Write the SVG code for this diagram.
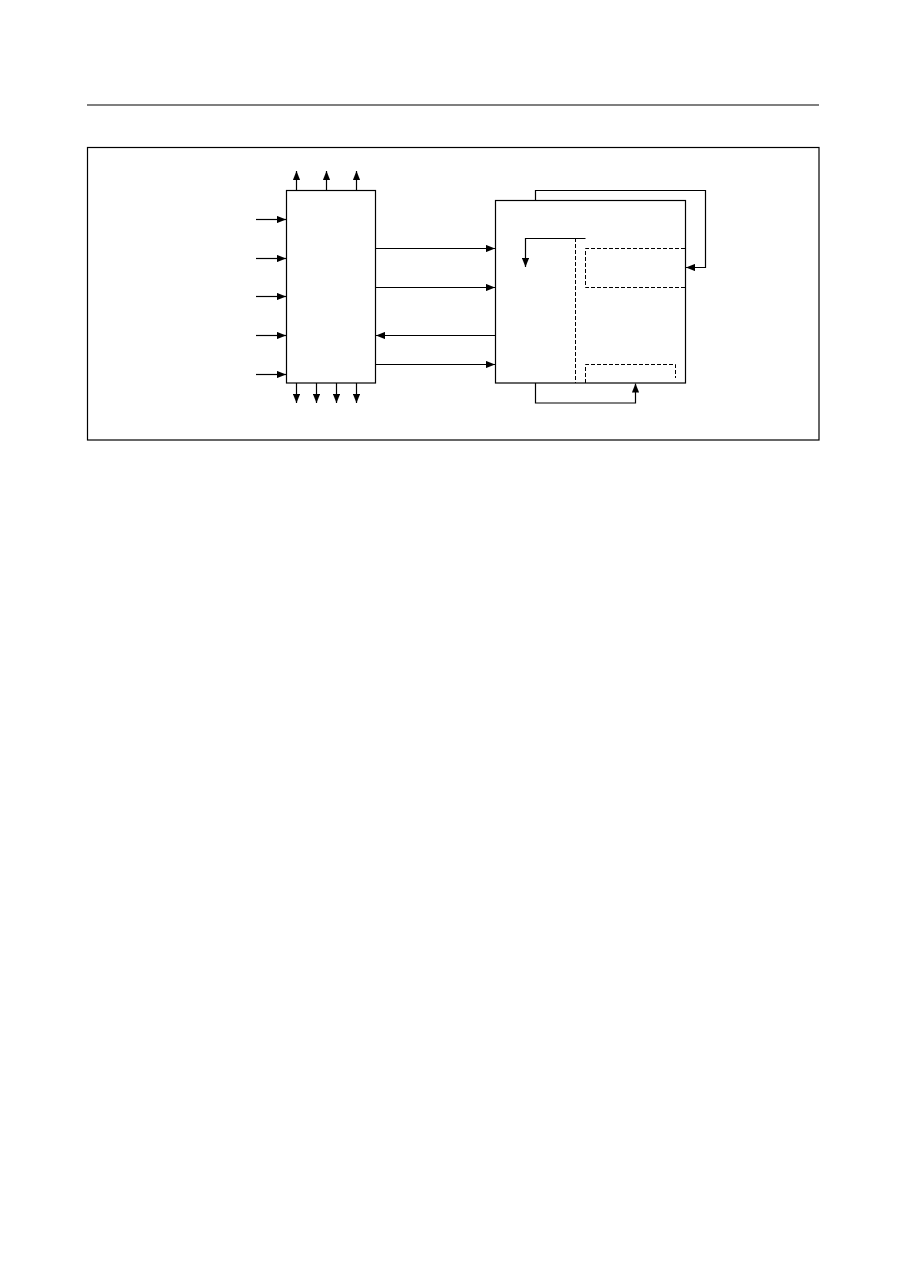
<svg xmlns="http://www.w3.org/2000/svg" width="909" height="1286" viewBox="0 0 909 1286">
<style>
.l{stroke:#000;stroke-width:1.2;fill:none}
.d{stroke:#000;stroke-width:1;fill:none;stroke-dasharray:4,2}
.a{stroke:#000;stroke-width:1.2;fill:none;marker-end:url(#ah)}
</style>
<defs>
<marker id="ah" viewBox="0 0 10 8" refX="10" refY="4" markerWidth="9" markerHeight="7.2" markerUnits="userSpaceOnUse" orient="auto">
<path d="M0,0 L10,4 L0,8 Z" fill="#000"/>
</marker>
</defs>
<rect width="909" height="1286" fill="#fff"/>
<line class="l" x1="87" y1="105" x2="819" y2="105" stroke-width="1.4"/>
<rect class="l" x="87.5" y="147.5" width="731.5" height="292.5" stroke-width="1.4"/>
<g id="left-block"><rect class="l" x="286.5" y="190.5" width="89" height="192.5"/></g>
<g id="right-block"><rect class="l" x="495.5" y="200.5" width="190" height="182.5"/>
<line class="d" x1="575.5" y1="238" x2="575.5" y2="383"/>
<polyline class="d" points="685,248.5 585.5,248.5 585.5,287.5 685,287.5"/>
<polyline class="d" points="585.5,383 585.5,364.5 675.5,364.5 675.5,378"/>
</g>
<g id="connectors">
<line class="a" x1="296.5" y1="190" x2="296.5" y2="171"/>
<line class="a" x1="326.5" y1="190" x2="326.5" y2="171"/>
<line class="a" x1="356.5" y1="190" x2="356.5" y2="171"/>
<line class="a" x1="296.5" y1="383" x2="296.5" y2="403"/>
<line class="a" x1="316.5" y1="383" x2="316.5" y2="403"/>
<line class="a" x1="336.5" y1="383" x2="336.5" y2="403"/>
<line class="a" x1="356.5" y1="383" x2="356.5" y2="403"/>
<line class="a" x1="256" y1="219.5" x2="286" y2="219.5"/>
<line class="a" x1="256" y1="258.5" x2="286" y2="258.5"/>
<line class="a" x1="256" y1="296.5" x2="286" y2="296.5"/>
<line class="a" x1="256" y1="335.5" x2="286" y2="335.5"/>
<line class="a" x1="256" y1="374.5" x2="286" y2="374.5"/>
<line class="a" x1="375.5" y1="248.5" x2="495" y2="248.5"/>
<line class="a" x1="375.5" y1="287.5" x2="495" y2="287.5"/>
<line class="a" x1="495.5" y1="335.5" x2="376" y2="335.5"/>
<line class="a" x1="375.5" y1="364.5" x2="495" y2="364.5"/>
<polyline class="a" points="535.5,200 535.5,190.5 705.5,190.5 705.5,267.5 686,267.5"/>
<polyline class="a" points="535.5,383 535.5,403 635.5,403 635.5,383.5"/>
<polyline class="a" points="585.5,238.5 525.5,238.5 525.5,267"/>
</g>
</svg>
